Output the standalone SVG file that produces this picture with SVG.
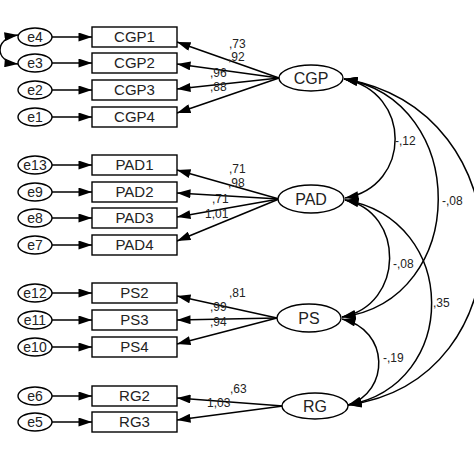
<svg xmlns="http://www.w3.org/2000/svg" width="474" height="474" viewBox="0 0 474 474">
<style>
.sh{fill:#fff;stroke:#000;stroke-width:1.4}
.ln{fill:none;stroke:#000;stroke-width:1.5}
.t{font-family:"Liberation Sans",Arial,sans-serif;fill:#222}
.e{font-size:14px;text-anchor:middle}
.b{font-size:15px;text-anchor:middle}
.l{font-size:16px;text-anchor:middle}
.c{font-size:12px}
</style>
<defs>
<marker id="ah" viewBox="0 0 12 8" refX="12" refY="4" markerWidth="14" markerHeight="9" orient="auto-start-reverse" markerUnits="userSpaceOnUse"><path d="M0,0 L12,4 L0,8 z" fill="#000"/></marker>
</defs>
<rect width="474" height="474" fill="#fff"/>
<g id="connectors" class="ln">
<path d="M52 37 H92" marker-end="url(#ah)"/>
<path d="M52 63 H92" marker-end="url(#ah)"/>
<path d="M52 90 H92" marker-end="url(#ah)"/>
<path d="M52 117 H92" marker-end="url(#ah)"/>
<path d="M52 165 H92" marker-end="url(#ah)"/>
<path d="M52 192 H92" marker-end="url(#ah)"/>
<path d="M52 218 H92" marker-end="url(#ah)"/>
<path d="M52 245 H92" marker-end="url(#ah)"/>
<path d="M52 293 H92" marker-end="url(#ah)"/>
<path d="M52 320 H92" marker-end="url(#ah)"/>
<path d="M52 347 H92" marker-end="url(#ah)"/>
<path d="M52 396 H92" marker-end="url(#ah)"/>
<path d="M52 422 H92" marker-end="url(#ah)"/>
<path d="M18 35 C-6 38 -6 62 18 64" marker-start="url(#ah)" marker-end="url(#ah)"/>
<path d="M279 78 L177 42" marker-end="url(#ah)"/>
<path d="M279 78 L177 64" marker-end="url(#ah)"/>
<path d="M279 78 L177 89" marker-end="url(#ah)"/>
<path d="M279 78 L177 113" marker-end="url(#ah)"/>
<path d="M279 199 L177 170" marker-end="url(#ah)"/>
<path d="M279 199 L177 193" marker-end="url(#ah)"/>
<path d="M279 199 L177 217" marker-end="url(#ah)"/>
<path d="M279 199 L177 241" marker-end="url(#ah)"/>
<path d="M277 318 L177 296" marker-end="url(#ah)"/>
<path d="M277 318 L177 320" marker-end="url(#ah)"/>
<path d="M277 318 L177 344" marker-end="url(#ah)"/>
<path d="M283 406 L177 398" marker-end="url(#ah)"/>
<path d="M283 406 L177 420" marker-end="url(#ah)"/>
<path d="M344 79 C412 92 412 186 345 198" marker-start="url(#ah)" marker-end="url(#ah)"/>
<path d="M344 79 C470 100 470 300 342 317" marker-start="url(#ah)" marker-end="url(#ah)"/>
<path d="M344 79 C528 110 528 380 348 405" marker-start="url(#ah)" marker-end="url(#ah)"/>
<path d="M345 200 C405 212 405 305 342 317" marker-start="url(#ah)" marker-end="url(#ah)"/>
<path d="M345 200 C460 220 460 385 348 405" marker-start="url(#ah)" marker-end="url(#ah)"/>
<path d="M342 319 C390 330 390 392 348 405" marker-start="url(#ah)" marker-end="url(#ah)"/>
</g>
<g id="labels" class="t c">
<text x="229" y="48">,73</text>
<text x="228" y="61">,92</text>
<text x="210" y="77">,96</text>
<text x="210" y="91">,88</text>
<text x="229" y="173">,71</text>
<text x="228" y="187">,98</text>
<text x="212" y="203">,71</text>
<text x="205" y="218">1,01</text>
<text x="229" y="297">,81</text>
<text x="210" y="311">,99</text>
<text x="210" y="326">,94</text>
<text x="230" y="393">,63</text>
<text x="207" y="407">1,03</text>
<text x="395" y="145">-,12</text>
<text x="442" y="205">-,08</text>
<text x="393" y="268">-,08</text>
<text x="433" y="307">,35</text>
<text x="383" y="362">-,19</text>
</g>
<g id="e4"><ellipse class="sh" cx="35" cy="37" rx="17" ry="9"/><text class="t e" x="35" y="42">e4</text></g>
<g id="e3"><ellipse class="sh" cx="35" cy="63" rx="17" ry="9"/><text class="t e" x="35" y="68">e3</text></g>
<g id="e2"><ellipse class="sh" cx="35" cy="90" rx="17" ry="9"/><text class="t e" x="35" y="95">e2</text></g>
<g id="e1"><ellipse class="sh" cx="35" cy="117" rx="17" ry="9"/><text class="t e" x="35" y="122">e1</text></g>
<g id="e13"><ellipse class="sh" cx="35" cy="165" rx="17" ry="9"/><text class="t e" x="35" y="170">e13</text></g>
<g id="e9"><ellipse class="sh" cx="35" cy="192" rx="17" ry="9"/><text class="t e" x="35" y="197">e9</text></g>
<g id="e8"><ellipse class="sh" cx="35" cy="218" rx="17" ry="9"/><text class="t e" x="35" y="223">e8</text></g>
<g id="e7"><ellipse class="sh" cx="35" cy="245" rx="17" ry="9"/><text class="t e" x="35" y="250">e7</text></g>
<g id="e12"><ellipse class="sh" cx="35" cy="293" rx="17" ry="9"/><text class="t e" x="35" y="298">e12</text></g>
<g id="e11"><ellipse class="sh" cx="35" cy="320" rx="17" ry="9"/><text class="t e" x="35" y="325">e11</text></g>
<g id="e10"><ellipse class="sh" cx="35" cy="347" rx="17" ry="9"/><text class="t e" x="35" y="352">e10</text></g>
<g id="e6"><ellipse class="sh" cx="35" cy="396" rx="17" ry="9"/><text class="t e" x="35" y="401">e6</text></g>
<g id="e5"><ellipse class="sh" cx="35" cy="422" rx="17" ry="9"/><text class="t e" x="35" y="427">e5</text></g>
<g id="CGP1"><rect class="sh" x="92" y="27" width="85" height="20"/><text class="t b" x="134.5" y="42">CGP1</text></g>
<g id="CGP2"><rect class="sh" x="92" y="53" width="85" height="20"/><text class="t b" x="134.5" y="68">CGP2</text></g>
<g id="CGP3"><rect class="sh" x="92" y="80" width="85" height="20"/><text class="t b" x="134.5" y="95">CGP3</text></g>
<g id="CGP4"><rect class="sh" x="92" y="107" width="85" height="20"/><text class="t b" x="134.5" y="122">CGP4</text></g>
<g id="PAD1"><rect class="sh" x="92" y="155" width="85" height="20"/><text class="t b" x="134.5" y="170">PAD1</text></g>
<g id="PAD2"><rect class="sh" x="92" y="182" width="85" height="20"/><text class="t b" x="134.5" y="197">PAD2</text></g>
<g id="PAD3"><rect class="sh" x="92" y="208" width="85" height="20"/><text class="t b" x="134.5" y="223">PAD3</text></g>
<g id="PAD4"><rect class="sh" x="92" y="235" width="85" height="20"/><text class="t b" x="134.5" y="250">PAD4</text></g>
<g id="PS2"><rect class="sh" x="92" y="283" width="85" height="20"/><text class="t b" x="134.5" y="298">PS2</text></g>
<g id="PS3"><rect class="sh" x="92" y="310" width="85" height="20"/><text class="t b" x="134.5" y="325">PS3</text></g>
<g id="PS4"><rect class="sh" x="92" y="337" width="85" height="20"/><text class="t b" x="134.5" y="352">PS4</text></g>
<g id="RG2"><rect class="sh" x="92" y="386" width="85" height="20"/><text class="t b" x="134.5" y="401">RG2</text></g>
<g id="RG3"><rect class="sh" x="92" y="412" width="85" height="20"/><text class="t b" x="134.5" y="427">RG3</text></g>
<g id="CGP"><ellipse class="sh" cx="311" cy="78" rx="32" ry="13"/><text class="t l" x="311" y="84">CGP</text></g>
<g id="PAD"><ellipse class="sh" cx="311" cy="199" rx="33" ry="14"/><text class="t l" x="311" y="205">PAD</text></g>
<g id="PS"><ellipse class="sh" cx="309" cy="318" rx="32" ry="14"/><text class="t l" x="309" y="324">PS</text></g>
<g id="RG"><ellipse class="sh" cx="315" cy="406" rx="33" ry="13"/><text class="t l" x="315" y="412">RG</text></g>
</svg>
